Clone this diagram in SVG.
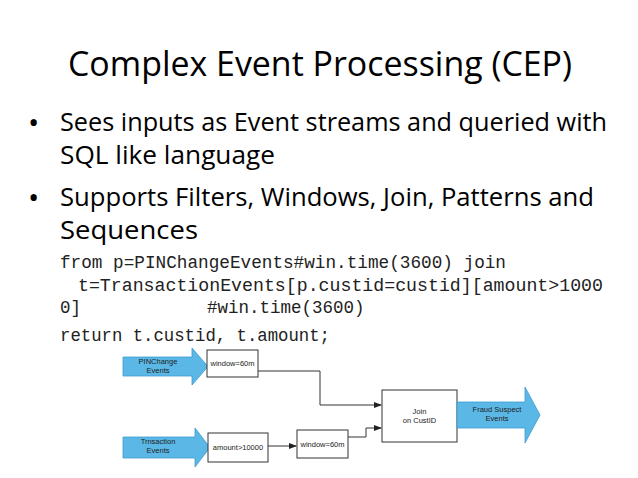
<svg xmlns="http://www.w3.org/2000/svg" width="638" height="478" viewBox="0 0 638 478">
<defs>
<style>
.t{font-family:"Open Sans","Liberation Sans",sans-serif;fill:#000}
.c{font-family:"Liberation Mono",monospace;font-size:17.5px;fill:#222}
.s{font-family:"Liberation Sans",sans-serif;font-size:7.5px;fill:#222;text-anchor:middle}
.box{fill:#fff;stroke:#333;stroke-width:1}
.arr{fill:#5bb8e6;stroke:#3a9cd0;stroke-width:0.8}
.ln{fill:none;stroke:#333;stroke-width:1}
</style>
<marker id="ah" markerWidth="8" markerHeight="6" refX="7" refY="3" orient="auto" markerUnits="userSpaceOnUse"><path d="M0,0L8,3L0,6z" fill="#222"/></marker>
</defs>
<rect width="638" height="478" fill="#fff"/>
<text class="t" x="68" y="76" font-size="35" textLength="504" lengthAdjust="spacingAndGlyphs">Complex Event Processing (CEP)</text>
<text class="t" x="28" y="133" font-size="30">•</text>
<text class="t" x="60" y="131" font-size="25" textLength="547" lengthAdjust="spacingAndGlyphs">Sees inputs as Event streams and queried with</text>
<text class="t" x="60" y="164" font-size="25" textLength="215" lengthAdjust="spacingAndGlyphs">SQL like language</text>
<text class="t" x="28" y="208" font-size="30">•</text>
<text class="t" x="60" y="206" font-size="25" textLength="534" lengthAdjust="spacingAndGlyphs">Supports Filters, Windows, Join, Patterns and</text>
<text class="t" x="60" y="239" font-size="25" textLength="138" lengthAdjust="spacingAndGlyphs">Sequences</text>
<text class="c" x="60" y="268" textLength="446" lengthAdjust="spacingAndGlyphs">from p=PINChangeEvents#win.time(3600) join</text>
<text class="c" x="78" y="291" textLength="525" lengthAdjust="spacingAndGlyphs">t=TransactionEvents[p.custid=custid][amount>1000</text>
<text class="c" x="60" y="313" xml:space="preserve">0]            #win.time(3600)</text>
<text class="c" x="60" y="341" textLength="270" lengthAdjust="spacingAndGlyphs">return t.custid, t.amount;</text>
<g id="pinchange"><path class="arr" d="M123,357H192V348L208,366.5L192,385V376H123Z"/><text class="s" x="158" y="364">PINChange</text><text class="s" x="158" y="373">Events</text></g>
<g id="window1"><rect class="box" x="207" y="350" width="51" height="27"/><text class="s" x="232.5" y="366">window=60m</text></g>
<g id="transaction"><path class="arr" d="M123,437H195V428L210,447.5L195,467V458H123Z"/><text class="s" x="158" y="444">Trnsaction</text><text class="s" x="158" y="453">Events</text></g>
<g id="amount"><rect class="box" x="208" y="433" width="60" height="29"/><text class="s" x="238" y="450">amount&gt;10000</text></g>
<g id="window2"><rect class="box" x="297" y="430" width="51" height="28"/><text class="s" x="322.5" y="447">window=60m</text></g>
<g id="join"><rect class="box" x="382" y="390" width="75" height="52"/><text class="s" x="419.5" y="414">Join</text><text class="s" x="419.5" y="423">on CustID</text></g>
<g id="fraud"><path class="arr" d="M457,402H525V387L540,415L525,443V428H457Z"/><text class="s" x="497" y="412">Fraud Suspect</text><text class="s" x="497" y="421">Events</text></g>
<g id="connectors">
<path class="ln" d="M258,371H320V405H381" marker-end="url(#ah)"/>
<path class="ln" d="M268,446H296" marker-end="url(#ah)"/>
<path class="ln" d="M348,437H366V428H381" marker-end="url(#ah)"/>
</g>
</svg>
